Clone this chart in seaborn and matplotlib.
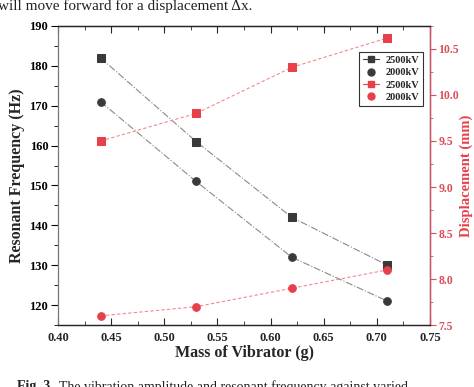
import seaborn as sns
import matplotlib.pyplot as plt
from matplotlib.lines import Line2D
from matplotlib.ticker import MultipleLocator

# data
mass = [0.44, 0.53, 0.62, 0.71]
freq_2500 = [182, 161, 142, 130]
freq_2000 = [171, 151, 132, 121]
disp_2500 = [9.5, 9.8, 10.3, 10.62]
disp_2000 = [7.6, 7.7, 7.9, 8.1]
series_labels = ["2500kV", "2000kV", "2500kV", "2000kV"]
x_ticks = [0.40, 0.45, 0.50, 0.55, 0.60, 0.65, 0.70, 0.75]

sns.set_style("ticks")
plt.rcParams['font.family'] = ['Liberation Serif', 'DejaVu Serif']
plt.rcParams['font.weight'] = 'bold'

BLACK = "#3a3a3a"
RED = "#e8404a"
RED_AX = "#d9505a"

fig = plt.figure(figsize=(4.74, 3.87), dpi=100)
ax = fig.add_axes([0.1224, 0.160, 0.7848, 0.773])
ax2 = ax.twinx()

sns.lineplot(x=mass, y=freq_2500, ax=ax, color="#8a8a8a", lw=0.8, linestyle="-.",
             marker="s", markersize=5.5, markerfacecolor=BLACK, markeredgecolor=BLACK)
sns.lineplot(x=mass, y=freq_2000, ax=ax, color="#8a8a8a", lw=0.8, linestyle="-.",
             marker="o", markersize=5.5, markerfacecolor=BLACK, markeredgecolor=BLACK)
sns.lineplot(x=mass, y=disp_2500, ax=ax2, color="#f08a90", lw=0.8, linestyle=(0, (3, 2)),
             marker="s", markersize=5.5, markerfacecolor=RED, markeredgecolor=RED)
sns.lineplot(x=mass, y=disp_2000, ax=ax2, color="#f08a90", lw=0.8, linestyle=(0, (3, 2)),
             marker="o", markersize=5.5, markerfacecolor=RED, markeredgecolor=RED)

ax.set_xlim(0.40, 0.75)
ax.set_ylim(115, 190)
ax2.set_ylim(7.5, 10.75)

ax.xaxis.set_minor_locator(MultipleLocator(0.025))
ax.yaxis.set_minor_locator(MultipleLocator(5))
ax2.yaxis.set_major_locator(MultipleLocator(0.5))
ax2.yaxis.set_minor_locator(MultipleLocator(0.25))
ax.set_xticks(x_ticks)
ax.set_xticklabels([f"{v:.2f}" for v in x_ticks])
ax.set_yticks([120, 130, 140, 150, 160, 170, 180, 190])

ax.tick_params(axis="x", which="both", direction="in", top=True, labelsize=9, pad=5)
ax.tick_params(axis="x", which="major", length=5)
ax.tick_params(axis="x", which="minor", length=3)
ax.tick_params(axis="y", which="both", direction="out", labelsize=9, colors="black", pad=2)
ax.tick_params(axis="y", which="major", length=5)
ax.tick_params(axis="y", which="minor", length=3)
ax2.tick_params(axis="y", which="both", direction="out", labelsize=8.5, colors=RED_AX, pad=2)
ax2.tick_params(axis="y", which="major", length=4)
ax2.tick_params(axis="y", which="minor", length=2.5)

for a in (ax, ax2):
    for s in a.spines.values():
        s.set_linewidth(0.9)
        s.set_visible(True)
ax.spines["left"].set_color("#777777")
ax.spines["bottom"].set_color("#333333")
ax.spines["top"].set_color("#111111")
ax2.spines["right"].set_color(RED_AX)
ax2.spines["left"].set_visible(False)

ax.set_xlabel("Mass of Vibrator (g)", fontsize=11.5, fontweight="bold", labelpad=1)
ax.set_ylabel("Resonant Frequency (Hz)", fontsize=11.5, fontweight="bold", labelpad=3)
ax2.set_ylabel("Displacement (mm)", fontsize=10.5, fontweight="bold", color=RED, labelpad=0)

handles = [
    Line2D([], [], color=BLACK, lw=0.8, marker="s", markersize=5),
    Line2D([], [], color=BLACK, lw=0, marker="o", markersize=5),
    Line2D([], [], color=RED, lw=0.8, marker="s", markersize=5),
    Line2D([], [], color=RED, lw=0, marker="o", markersize=5),
]
leg = ax.legend(handles, series_labels, loc="upper right", bbox_to_anchor=(0.981, 0.913),
                borderaxespad=0, fontsize=7.5, frameon=True, fancybox=False,
                handlelength=1.6, handletextpad=0.6, borderpad=0.35, labelspacing=0.3)
leg.get_frame().set_edgecolor("black")
leg.get_frame().set_linewidth(0.8)
for t in leg.get_texts():
    t.set_fontweight("bold")

# surrounding caption text of the page (cut by the crop, as in the source)
fig.text(-0.005, 0.974, "will move forward for a displacement \u0394x.", fontsize=11,
         fontweight="normal", va="baseline", ha="left", color="#222222")
fig.text(0.036, 0.018, "Fig. 3.", fontsize=10, fontweight="bold", va="top",
         ha="left", color="#222222")
fig.text(0.125, 0.018, "The vibration amplitude and resonant frequency against varied",
         fontsize=10, fontweight="normal", va="top", ha="left", color="#222222")

fig.savefig("out.png", dpi=100)
